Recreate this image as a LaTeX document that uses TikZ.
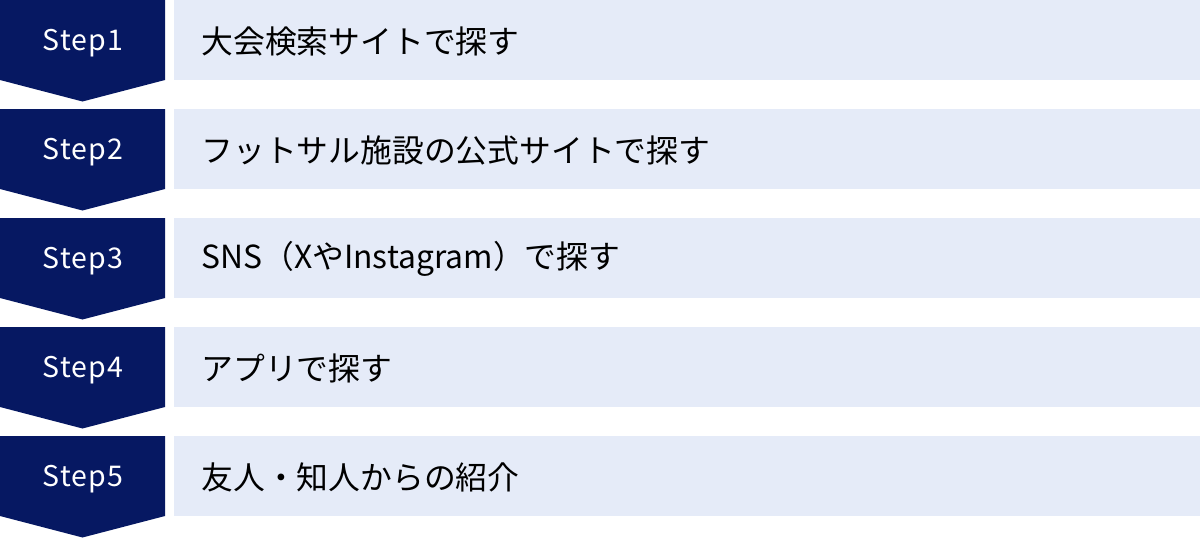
\documentclass[tikz,border=0pt]{standalone}
\usepackage{fontspec}
\setmainfont{Noto Sans CJK JP}
\definecolor{navy}{RGB}{6,24,98}
\definecolor{pale}{RGB}{229,235,248}
\begin{document}
\begin{tikzpicture}[x=1pt,y=-1pt,
  stepshape/.style={fill=navy,draw=none},
  labelbox/.style={fill=pale,draw=none,minimum width=1026pt,minimum height=80pt,anchor=north west,inner sep=0pt},
  steptext/.style={text=white,font=\fontsize{28.5}{34}\selectfont\addfontfeatures{LetterSpace=4},anchor=center},
  desctext/.style={text=black,font=\fontsize{31.8}{36}\selectfont,anchor=west}]
\useasboundingbox (0,0) rectangle (1200,538);
\foreach \i/\t in {1/大会検索サイトで探す,2/フットサル施設の公式サイトで探す,3/SNS（XやInstagram）で探す,4/アプリで探す,5/友人・知人からの紹介}{
  \pgfmathsetmacro{\y}{(\i-1)*109}
  \fill[stepshape] (0,\y) -- (165,\y) -- (165,\y+80) -- (82.5,\y+101.5) -- (0,\y+80) -- cycle;
  \node[labelbox] (box\i) at (174,\y) {};
  \node[steptext] (step\i) at (83,\y+43) {Step\i};
  \node[desctext] (desc\i) at (198,\y+41) {\t};
}
\end{tikzpicture}
\end{document}
